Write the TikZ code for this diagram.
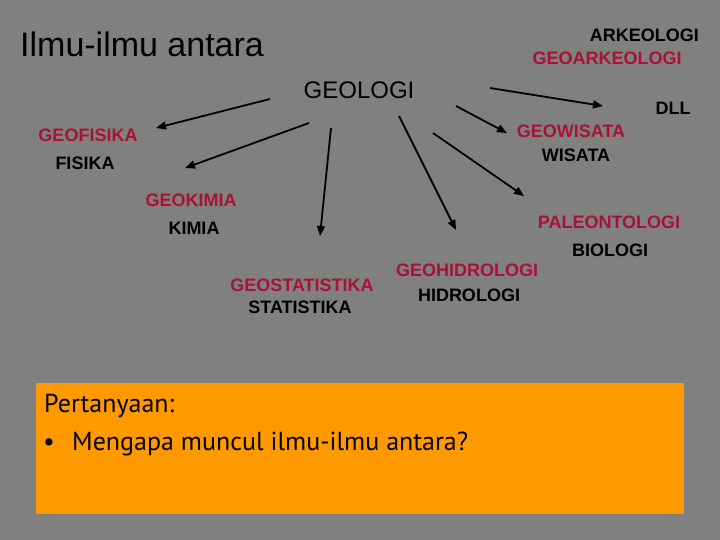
\documentclass[tikz,border=0pt]{standalone}
\usepackage{fontspec}
\setmainfont{Liberation Sans}
\newfontfamily\boxfont{PT Sans}
\usetikzlibrary{arrows.meta}
\definecolor{bggray}{RGB}{128,128,128}
\definecolor{geored}{RGB}{170,16,56}
\definecolor{boxorange}{RGB}{255,153,0}
\tikzset{
  lbl/.style={inner sep=0pt, font=\fontsize{18}{20}\selectfont\bfseries},
  redlbl/.style={lbl, text=geored},
  blklbl/.style={lbl, text=black},
  arr/.style={line width=1.8pt, -{Triangle[length=10pt,width=8pt]}},
  boxtxt/.style={inner sep=0pt, anchor=base west, font=\boxfont\fontsize{26}{30}\selectfont},
}
\begin{document}
\begin{tikzpicture}[x=1pt,y=-1pt]
\fill[bggray] (0,0) rectangle (720,540);
\useasboundingbox (0,0) rectangle (720,540);

\node[inner sep=0pt, anchor=base west, font=\fontsize{34}{38}\selectfont] (title) at (20,57) {Ilmu-ilmu antara};
\node[blklbl, anchor=east] (arkeo) at (699,35) {ARKEOLOGI};
\node[redlbl] (geoarkeo) at (607,58) {GEOARKEOLOGI};
\node[inner sep=0pt, font=\fontsize{24}{28}\selectfont] (geologi) at (359,90) {GEOLOGI};
\node[blklbl] (dll) at (673,108) {DLL};
\node[redlbl] (geofisika) at (88,135) {GEOFISIKA};
\node[blklbl] (fisika) at (85,163) {FISIKA};
\node[redlbl] (geowisata) at (571,131) {GEOWISATA};
\node[blklbl] (wisata) at (576,155) {WISATA};
\node[redlbl] (geokimia) at (191,200) {GEOKIMIA};
\node[blklbl] (kimia) at (194,228) {KIMIA};
\node[redlbl] (paleo) at (609,222) {PALEONTOLOGI};
\node[blklbl] (biologi) at (610,250) {BIOLOGI};
\node[redlbl] (geostat) at (302,285) {GEOSTATISTIKA};
\node[blklbl] (stat) at (300,307) {STATISTIKA};
\node[redlbl] (geohidro) at (467,270) {GEOHIDROLOGI};
\node[blklbl] (hidro) at (469,295) {HIDROLOGI};

% arrow end points
\coordinate (s1) at (270,99);  \coordinate (e1) at (156,128);
\coordinate (s2) at (309,123); \coordinate (e2) at (185,168);
\coordinate (s3) at (331,128); \coordinate (e3) at (320,236);
\coordinate (s4) at (399,116); \coordinate (e4) at (456,230);
\coordinate (s5) at (433,133); \coordinate (e5) at (524,196);
\coordinate (s6) at (456,106); \coordinate (e6) at (507,133);
\coordinate (s7) at (490,88);  \coordinate (e7) at (603,106);
\foreach \i in {1,...,7} { \draw[arr] (s\i) -- (e\i); }

\node[draw=none, fill=boxorange, minimum width=648pt, minimum height=131pt, inner sep=0pt, anchor=north west] (box) at (36,383) {};
\node[boxtxt] (q) at (44,412) {Pertanyaan:};
\node[boxtxt] (bul) at (43,450) {•};
\node[boxtxt] (q1) at (72,450) {Mengapa muncul ilmu-ilmu antara?};
\end{tikzpicture}
\end{document}
